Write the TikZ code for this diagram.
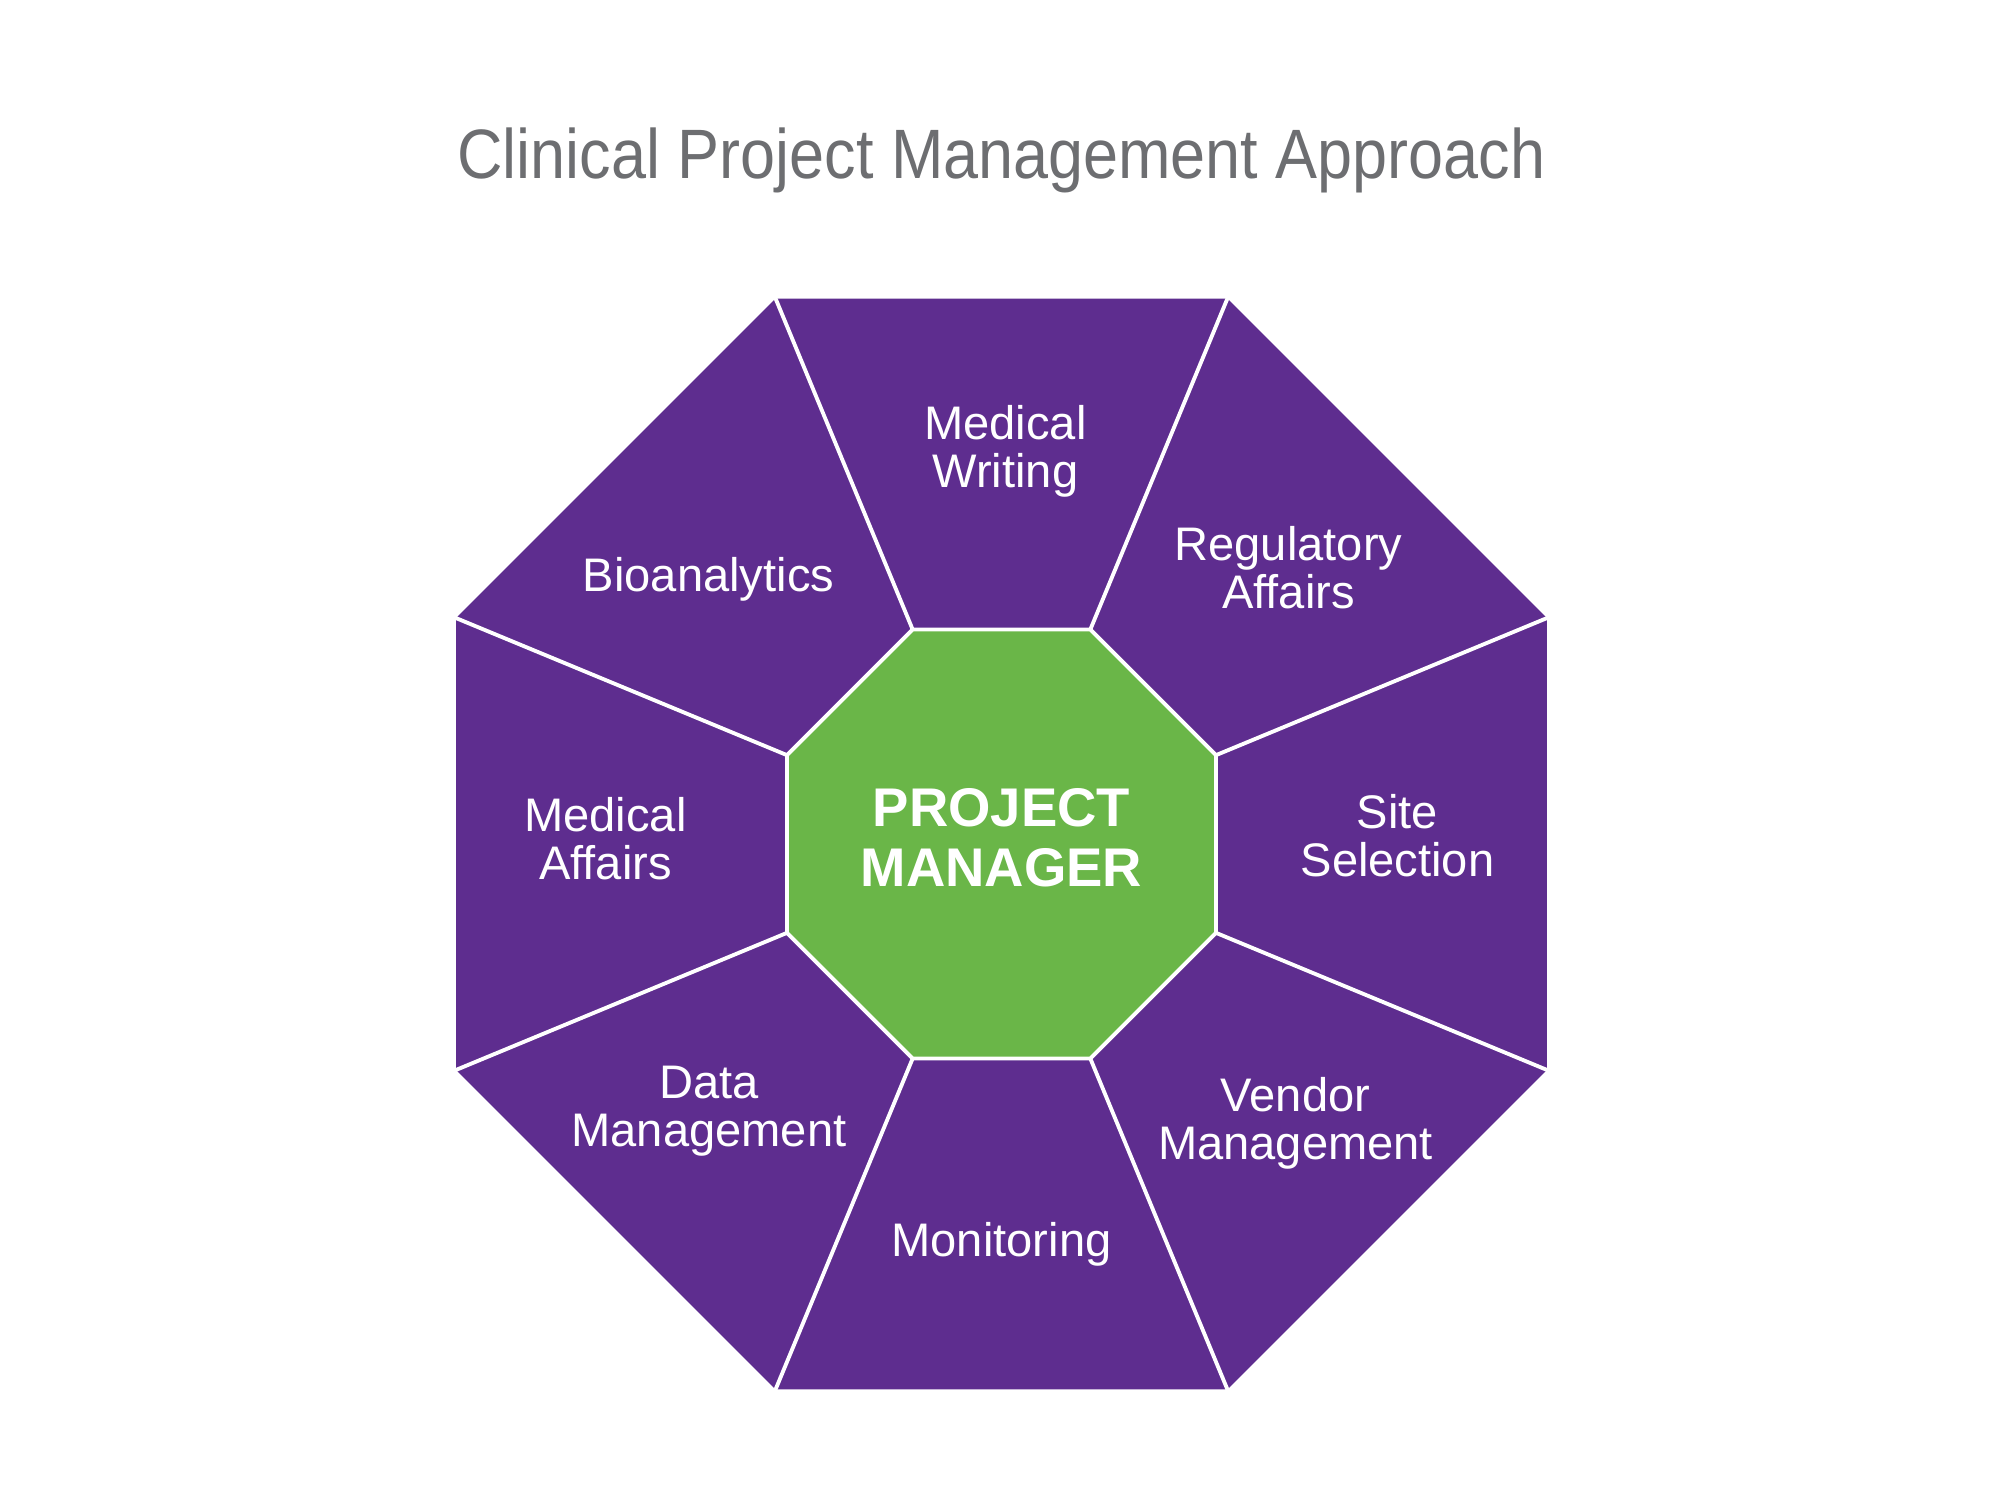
\documentclass[tikz,border=0pt]{standalone}
\usepackage{fontspec}
\setmainfont{Liberation Sans}
\newfontfamily\headfont[FakeStretch=0.9]{Liberation Sans}
\usetikzlibrary{shapes.geometric}

\definecolor{ringpurple}{HTML}{5E2D8F}
\definecolor{hubgreen}{HTML}{6AB648}
\definecolor{headgrey}{HTML}{6D6E71}

\begin{document}
\begin{tikzpicture}[
	octagon/.style={regular polygon, regular polygon sides=8, inner sep=0pt},
	sector/.style={text=white, align=center, font=\fontsize{13.4}{13.6}\selectfont},
	hub/.style={text=white, align=center, font=\bfseries\fontsize{15.5}{17}\selectfont}]
	\useasboundingbox (-10.015, -6.53) rectangle (9.985, 8.47);
	%%
	\node[anchor=base, text=headgrey, font=\headfont\fontsize{19.9}{24}\selectfont] (title) at (0, 6.69) {Clinical Project Management Approach};
	%%
	\coordinate (c) at (0, 0.03);
	\node[octagon, fill=ringpurple, minimum size=11.808cm] (ring) at (c) {};
	\foreach \i in {1,...,8}
		\draw[white, line width=1.1pt] (ring.corner \i) -- (c);
	\node[octagon, fill=hubgreen, draw=white, line width=1.1pt, minimum size=4.644cm] (pm) at (c) {};
	\node[hub] (pmtext) at (0, 0.09) {PROJECT\\MANAGER};
	%%
	\node[sector] (writing) at (0.04, 3.955) {Medical\\Writing};
	\node[sector] (regulatory) at (2.87, 2.79) {Regulatory\\Affairs};
	\node[sector] (site) at (3.96, 0.11) {Site\\Selection};
	\node[sector] (vendor) at (2.94, -2.76) {Vendor\\Management};
	\node[sector] (monitoring) at (0, -3.97) {Monitoring};
	\node[sector] (data) at (-2.925, -2.64) {Data\\Management};
	\node[sector] (affairs) at (-3.96, 0.08) {Medical\\Affairs};
	\node[sector] (bio) at (-2.93, 2.68) {Bioanalytics};
\end{tikzpicture}
\end{document}
